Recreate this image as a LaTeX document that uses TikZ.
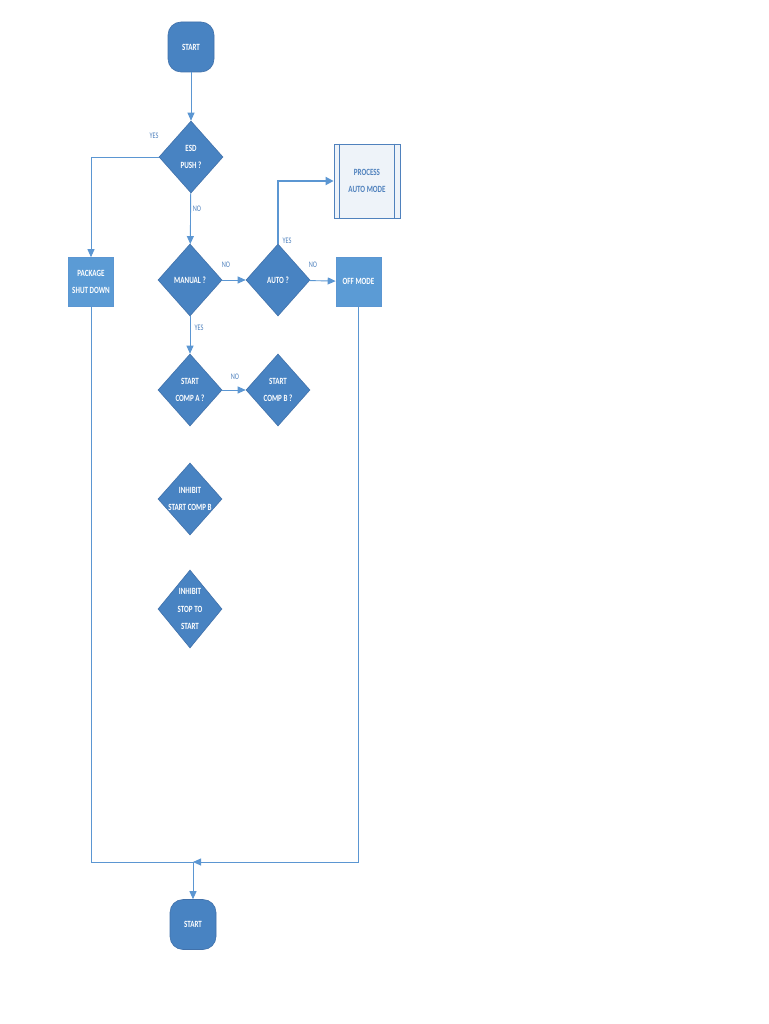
\documentclass[tikz,border=0pt]{standalone}
\usepackage{fontspec}
\setmainfont{Carlito}
\newfontfamily\condfont[FakeStretch=0.74]{Carlito}
\usetikzlibrary{shapes.geometric,arrows.meta,positioning}
\definecolor{rectblue}{RGB}{91,155,213}
\definecolor{diablue}{RGB}{72,131,194}
\definecolor{edgeblue}{RGB}{65,113,170}
\definecolor{lineblue}{RGB}{91,150,210}
\definecolor{labblue}{RGB}{79,129,189}
\definecolor{procfill}{RGB}{238,243,249}
\tikzset{
  x=1pt, y=-1pt,
  txt/.style={text=white, font=\condfont\fontsize{9.5}{17.5}\selectfont\bfseries, align=center},
  dia/.style={diamond, draw=edgeblue, line width=0.6pt, fill=diablue, minimum width=64pt, minimum height=72pt, inner sep=0pt},
  rectbox/.style={rectangle, draw=lineblue, line width=0.6pt, fill=rectblue, minimum width=45pt, minimum height=49pt, inner sep=0pt, txt},
  term/.style={rectangle, rounded corners=13pt, draw=edgeblue, line width=0.6pt, fill=diablue, minimum width=46pt, minimum height=50pt, inner sep=0pt, txt},
  conn/.style={draw=lineblue, line width=0.9pt, -{Triangle[width=7pt,length=8pt]}},
  plain/.style={draw=lineblue, line width=0.9pt},
  lab/.style={text=labblue, font=\condfont\fontsize{8.5}{9}\selectfont, inner sep=0pt},
}
\begin{document}
\begin{tikzpicture}
\useasboundingbox (0,0) rectangle (768,1024);
% nodes
\node[term] (start1) at (191,47) {START};
\node[dia, label={[txt]center:ESD\\PUSH ?}] (esd) at (191,157) {};
\node[rectbox] (pkg) at (91,282) {PACKAGE\\SHUT DOWN};
\node[dia, label={[txt]center:MANUAL ?}] (manual) at (190,280) {};
\node[dia, label={[txt]center:AUTO ?}] (auto) at (278,280) {};
\node[rectbox] (off) at (358.5,281.5) {OFF MODE};
\node[rectangle, draw=labblue, line width=0.8pt, fill=procfill, minimum width=66pt, minimum height=74pt, inner sep=0pt,
      text=labblue, font=\condfont\fontsize{9.5}{17.5}\selectfont\bfseries, align=center] (proc) at (367,181) {PROCESS\\AUTO MODE};
\draw[labblue, line width=0.6pt] ([xshift=6pt]proc.north west) -- ([xshift=6pt]proc.south west);
\draw[labblue, line width=0.6pt] ([xshift=-6pt]proc.north east) -- ([xshift=-6pt]proc.south east);
\node[dia, label={[txt]center:START\\COMP A ?}] (compa) at (190,390) {};
\node[dia, label={[txt]center:START\\COMP B ?}] (compb) at (278,390) {};
\node[dia, label={[txt]center:INHIBIT\\START COMP B}] (inhb) at (190,499) {};
\node[dia, minimum height=78pt, label={[txt]center:INHIBIT\\STOP TO\\START}] (inhs) at (190,609) {};
\node[term] (start2) at (193,924.5) {START};
\coordinate (join) at (193,862);
% connectors
\draw[conn] (start1) -- (esd);
\draw[conn] (esd.west) -| (pkg.north);
\draw[conn] (esd) -- (manual);
\draw[conn] (manual) -- (auto);
\draw[conn, line width=1.8pt, -{Triangle[width=8pt,length=8pt]}] (auto.north) |- (proc.west);
\draw[conn] (auto) -- (off);
\draw[conn] (manual) -- (compa);
\draw[conn] (compa) -- (compb);
\draw[plain] (pkg.south) |- (join);
\draw[conn] (off.south) |- (join);
\draw[conn] (join) -- (start2);
% labels
\node[lab] (l1) at (154,136) {YES};
\node[lab] (l2) at (197,209) {NO};
\node[lab] (l3) at (226,265) {NO};
\node[lab] (l4) at (287,241) {YES};
\node[lab] (l5) at (313,265) {NO};
\node[lab] (l6) at (199,328) {YES};
\node[lab] (l7) at (235,377) {NO};
\end{tikzpicture}
\end{document}
